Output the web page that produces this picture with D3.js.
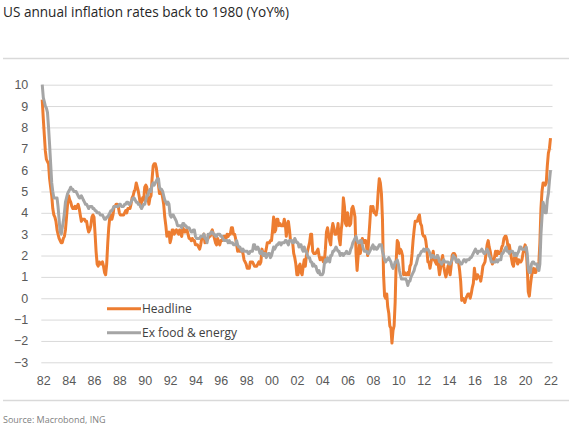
<!DOCTYPE html>
<html>
<head>
<meta charset="utf-8">
<script src="https://cdn.jsdelivr.net/npm/d3@7"></script>
<style>
  body { margin: 0; background: #fff; }
  svg { display: block; font-family: "Open Sans", sans-serif; }
  .grid line { stroke: #d9d9d9; stroke-width: 1; }
  .grid .domain { display: none; }
  .axis text { fill: #595959; font-size: 12.5px; }
</style>
</head>
<body>
<script>
var width = 569,
    height = 430;

// monthly YoY %, first point Dec 1981, last point Jan 2022
var firstMonth = new Date(1981, 11, 1);

var headline = [
  9.3,
  8.4, 7.6, 6.9, 6.5, 6.4, 6.3, 5.6, 5.2, 4.8, 4.2, 3.9, 3.8,
  3.6, 3.2, 3.0, 2.8, 2.7, 2.6, 2.6, 2.8, 2.9, 3.2, 3.8, 4.4,
  4.8, 4.6, 4.5, 4.3, 4.2, 4.2, 4.3, 4.2, 4.3, 4.4, 4.2, 3.9,
  3.6, 3.7, 3.7, 3.7, 3.6, 3.6, 3.3, 3.1, 3.2, 3.4, 3.8, 3.9,
  3.8, 3.0, 2.2, 1.6, 1.5, 1.7, 1.6, 1.6, 1.7, 1.5, 1.2, 1.1,
  1.6, 2.6, 3.3, 3.8, 3.9, 3.7, 3.9, 4.3, 4.3, 4.4, 4.4, 4.3,
  4.0, 3.9, 3.9, 3.9, 3.9, 4.0, 4.1, 4.0, 4.2, 4.2, 4.2, 4.4,
  4.7, 4.8, 5.0, 5.1, 5.4, 5.2, 5.0, 4.7, 4.3, 4.5, 4.7, 4.6,
  5.2, 5.3, 5.2, 4.7, 4.4, 4.7, 4.8, 5.6, 6.2, 6.3, 6.3, 6.1,
  5.7, 5.3, 4.9, 4.9, 5.0, 4.7, 4.4, 3.8, 3.4, 2.9, 3.0, 3.1,
  2.6, 2.8, 3.2, 3.2, 3.0, 3.1, 3.2, 3.1, 3.0, 3.2, 3.0, 2.9,
  3.3, 3.2, 3.1, 3.2, 3.2, 3.0, 2.8, 2.8, 2.7, 2.8, 2.7, 2.7,
  2.5, 2.5, 2.5, 2.4, 2.3, 2.5, 2.8, 2.9, 3.0, 2.6, 2.7, 2.7,
  2.8, 2.9, 2.9, 3.1, 3.2, 3.0, 2.8, 2.6, 2.5, 2.8, 2.6, 2.5,
  2.7, 2.7, 2.8, 2.9, 2.9, 2.8, 3.0, 2.9, 3.0, 3.0, 3.3, 3.3,
  3.0, 3.0, 2.8, 2.5, 2.2, 2.3, 2.2, 2.2, 2.2, 2.1, 1.8, 1.7,
  1.6, 1.4, 1.4, 1.4, 1.7, 1.7, 1.7, 1.6, 1.5, 1.5, 1.5, 1.6,
  1.7, 1.6, 1.7, 2.3, 2.1, 2.0, 2.1, 2.3, 2.6, 2.6, 2.6, 2.7,
  2.7, 3.2, 3.8, 3.1, 3.2, 3.7, 3.7, 3.4, 3.5, 3.4, 3.4, 3.4,
  3.7, 3.5, 2.9, 3.3, 3.6, 3.2, 2.7, 2.7, 2.6, 2.1, 1.9, 1.6,
  1.1, 1.1, 1.5, 1.6, 1.2, 1.1, 1.5, 1.8, 1.5, 2.0, 2.2, 2.4,
  2.6, 3.0, 3.0, 2.2, 2.1, 2.1, 2.1, 2.2, 2.3, 2.0, 1.8, 1.9,
  1.9, 1.7, 1.7, 2.3, 3.1, 3.3, 3.0, 2.7, 2.5, 3.2, 3.5, 3.3,
  3.0, 3.0, 3.1, 3.5, 2.8, 2.5, 3.2, 3.6, 4.7, 4.3, 3.5, 3.4,
  4.0, 3.6, 3.4, 3.5, 4.2, 4.3, 4.1, 3.8, 2.1, 1.3, 2.0, 2.5,
  2.1, 2.4, 2.8, 2.6, 2.7, 2.7, 2.4, 2.0, 2.8, 3.5, 4.3, 4.1,
  4.3, 4.0, 4.0, 3.9, 4.2, 5.0, 5.6, 5.4, 4.9, 3.7, 1.1, 0.1,
  0.0, 0.2, -0.4, -0.7, -1.3, -1.4, -2.1, -1.5, -1.3, -0.2, 1.8, 2.7,
  2.6, 2.1, 2.3, 2.2, 2.0, 1.1, 1.2, 1.1, 1.1, 1.2, 1.1, 1.5,
  1.6, 2.1, 2.7, 3.2, 3.6, 3.6, 3.6, 3.8, 3.9, 3.5, 3.4, 3.0,
  2.9, 2.9, 2.7, 2.3, 1.7, 1.7, 1.4, 1.7, 2.0, 2.2, 1.8, 1.7,
  1.6, 2.0, 1.5, 1.1, 1.4, 1.8, 2.0, 1.5, 1.2, 1.0, 1.2, 1.5,
  1.6, 1.1, 1.5, 2.0, 2.1, 2.1, 2.0, 1.7, 1.7, 1.7, 1.3, 0.8,
  -0.1, 0.0, -0.1, -0.2, 0.0, 0.1, 0.2, 0.2, 0.0, 0.2, 0.5, 0.7,
  1.4, 1.0, 0.9, 1.1, 1.0, 1.0, 0.8, 1.1, 1.5, 1.6, 1.7, 2.1,
  2.5, 2.7, 2.4, 2.2, 1.9, 1.6, 1.7, 1.9, 2.2, 2.0, 2.2, 2.1,
  2.1, 2.2, 2.4, 2.5, 2.8, 2.9, 2.9, 2.7, 2.3, 2.5, 2.2, 1.9,
  1.6, 1.5, 1.9, 2.0, 1.8, 1.6, 1.8, 1.7, 1.7, 1.8, 2.1, 2.3,
  2.5, 2.3, 1.5, 0.3, 0.1, 0.6, 1.0, 1.3, 1.4, 1.2, 1.2, 1.4,
  1.4, 1.7, 2.6, 4.2, 5.0, 5.4, 5.4, 5.3, 5.4, 6.2, 6.8, 7.0,
  7.5
];

var exFoodEnergy = [
  10.0,
  9.4, 9.2, 9.0, 8.9, 8.7, 8.0, 7.2, 6.3, 5.4, 5.0, 4.7, 4.7,
  4.7, 4.7, 4.3, 3.7, 3.1, 3.0, 3.3, 3.6, 4.0, 4.5, 4.7, 4.9,
  5.0, 5.1, 5.2, 5.1, 5.1, 5.0, 5.0, 5.0, 4.9, 4.8, 4.7, 4.7,
  4.8, 4.7, 4.6, 4.5, 4.4, 4.4, 4.3, 4.2, 4.3, 4.3, 4.3, 4.2,
  4.2, 4.1, 4.1, 4.0, 4.0, 4.0, 3.9, 3.9, 3.9, 3.8, 3.7, 3.7,
  3.8, 3.8, 3.9, 4.0, 4.1, 4.1, 4.2, 4.3, 4.3, 4.3, 4.3, 4.3,
  4.4, 4.4, 4.3, 4.3, 4.3, 4.4, 4.4, 4.5, 4.5, 4.4, 4.4, 4.5,
  4.6, 4.7, 4.7, 4.6, 4.5, 4.5, 4.4, 4.4, 4.3, 4.2, 4.3, 4.4,
  4.4, 4.6, 4.8, 4.8, 5.0, 5.1, 5.0, 5.3, 5.4, 5.3, 5.4, 5.5,
  5.6, 5.6, 5.2, 5.1, 5.1, 5.0, 4.8, 4.6, 4.5, 4.4, 4.5, 4.4,
  3.9, 3.8, 3.9, 3.9, 3.8, 3.7, 3.6, 3.4, 3.4, 3.4, 3.4, 3.3,
  3.5, 3.5, 3.4, 3.4, 3.3, 3.3, 3.3, 3.2, 3.1, 3.1, 3.2, 3.2,
  2.9, 2.8, 2.8, 2.8, 2.8, 2.9, 2.9, 2.9, 3.0, 2.8, 2.8, 2.6,
  3.0, 3.0, 3.0, 3.1, 3.1, 3.0, 3.0, 2.9, 2.9, 3.0, 3.0, 3.0,
  2.9, 2.9, 2.8, 2.7, 2.7, 2.7, 2.7, 2.6, 2.7, 2.6, 2.6, 2.6,
  2.5, 2.5, 2.5, 2.7, 2.5, 2.4, 2.4, 2.3, 2.2, 2.3, 2.2, 2.2,
  2.2, 2.2, 2.1, 2.1, 2.2, 2.2, 2.2, 2.5, 2.5, 2.3, 2.3, 2.4,
  2.3, 2.1, 2.1, 2.2, 2.0, 2.1, 2.1, 1.9, 2.0, 2.1, 2.1, 1.9,
  2.0, 2.2, 2.4, 2.3, 2.4, 2.5, 2.5, 2.6, 2.6, 2.5, 2.6, 2.6,
  2.6, 2.7, 2.7, 2.6, 2.5, 2.7, 2.7, 2.7, 2.6, 2.6, 2.8, 2.7,
  2.6, 2.6, 2.4, 2.5, 2.5, 2.3, 2.2, 2.4, 2.2, 2.2, 2.0, 1.9,
  1.9, 1.7, 1.7, 1.5, 1.6, 1.5, 1.5, 1.3, 1.2, 1.3, 1.1, 1.1,
  1.1, 1.2, 1.6, 1.8, 1.7, 1.9, 1.8, 1.7, 2.0, 2.0, 2.2, 2.2,
  2.3, 2.4, 2.3, 2.2, 2.2, 2.0, 2.1, 2.1, 2.0, 2.1, 2.1, 2.2,
  2.1, 2.1, 2.1, 2.3, 2.4, 2.6, 2.7, 2.8, 2.9, 2.7, 2.6, 2.6,
  2.7, 2.7, 2.5, 2.3, 2.2, 2.2, 2.2, 2.1, 2.1, 2.2, 2.3, 2.4,
  2.5, 2.3, 2.4, 2.3, 2.3, 2.4, 2.5, 2.5, 2.5, 2.2, 2.0, 1.8,
  1.7, 1.8, 1.8, 1.9, 1.8, 1.7, 1.5, 1.4, 1.5, 1.7, 1.7, 1.8,
  1.6, 1.3, 1.1, 0.9, 0.9, 0.9, 0.9, 0.9, 0.8, 0.6, 0.8, 0.8,
  1.0, 1.1, 1.2, 1.3, 1.5, 1.6, 1.8, 2.0, 2.0, 2.1, 2.2, 2.2,
  2.3, 2.2, 2.3, 2.3, 2.3, 2.2, 2.1, 1.9, 2.0, 2.0, 1.9, 1.9,
  1.9, 2.0, 1.9, 1.7, 1.7, 1.6, 1.7, 1.8, 1.7, 1.7, 1.7, 1.7,
  1.6, 1.6, 1.7, 1.8, 2.0, 1.9, 1.9, 1.7, 1.7, 1.8, 1.7, 1.6,
  1.6, 1.7, 1.8, 1.8, 1.7, 1.8, 1.8, 1.8, 1.9, 1.9, 2.0, 2.1,
  2.2, 2.3, 2.2, 2.1, 2.2, 2.2, 2.2, 2.3, 2.2, 2.1, 2.1, 2.2,
  2.3, 2.2, 2.0, 1.9, 1.7, 1.7, 1.7, 1.7, 1.7, 1.8, 1.7, 1.8,
  1.8, 1.8, 2.1, 2.1, 2.2, 2.3, 2.4, 2.2, 2.2, 2.1, 2.2, 2.2,
  2.2, 2.1, 2.0, 2.1, 2.0, 2.1, 2.2, 2.4, 2.4, 2.3, 2.3, 2.3,
  2.3, 2.4, 2.1, 1.4, 1.2, 1.2, 1.6, 1.7, 1.7, 1.6, 1.6, 1.6,
  1.4, 1.3, 1.6, 3.0, 3.8, 4.5, 4.3, 4.0, 4.0, 4.6, 4.9, 5.5,
  6.0
];

var seriesNames = ['Headline', 'Ex food & energy'],
    seriesColors = ['#ed7d31', '#a5a5a5'];

var yTicks = [10, 9, 8, 7, 6, 5, 4, 3, 2, 1, 0, -1, -2, -3];
var xTickYears = d3.range(1982, 2023, 2);

var svg = d3.select("body").append("svg")
    .attr("width", width)
    .attr("height", height);

var x = d3.scaleTime().domain([new Date(1982, 0, 1), new Date(2022, 0, 1)]).range([43.3, 550.5]),
    y = d3.scaleLinear().domain([-3, 10]).range([362.3, 84.7]);

var gridLeft = 41.3, gridRight = 552.5;

// title + separators
svg.append('text')
  .attr('x', 3).attr('y', 17)
  .style('font-size', '13.6px')
  .style('fill', '#262626')
  .text('US annual inflation rates back to 1980 (YoY%)');

svg.append('line')
  .attr('x1', 3).attr('x2', width)
  .attr('y1', 58.5).attr('y2', 58.5)
  .attr('stroke', '#d9d9d9').attr('stroke-width', 1.5);

svg.append('line')
  .attr('x1', 3).attr('x2', width)
  .attr('y1', 400.5).attr('y2', 400.5)
  .attr('stroke', '#d9d9d9').attr('stroke-width', 1.5);

svg.append('text')
  .attr('x', 3).attr('y', 422.5)
  .style('font-size', '9px')
  .style('fill', '#7f7f7f')
  .text('Source: Macrobond, ING');

// horizontal gridlines with the value labels
svg.append('g')
  .attr('class', 'grid axis')
  .attr('transform', 'translate(' + gridLeft + ',0)')
  .call(d3.axisLeft(y).tickValues(yTicks).tickSize(-(gridRight - gridLeft)).tickPadding(13))
  .call(function(g) { g.select('.domain').remove(); });

// year labels
svg.append('g')
  .attr('class', 'axis')
  .attr('transform', 'translate(0,' + y(-3) + ')')
  .call(d3.axisBottom(x)
    .tickValues(xTickYears.map(function(yr) { return new Date(yr, 0, 1); }))
    .tickFormat(d3.timeFormat('%y'))
    .tickSize(0).tickPadding(13.5))
  .call(function(g) { g.select('.domain').remove(); });

// the two series
var line = d3.line()
  .x(function(d, i) { return x(d3.timeMonth.offset(firstMonth, i)); })
  .y(function(d) { return y(d); });

svg.selectAll('.series')
  .data([headline, exFoodEnergy])
  .enter().append('path')
  .attr('class', 'series')
  .attr('d', line)
  .attr('fill', 'none')
  .attr('stroke', function(d, i) { return seriesColors[i]; })
  .attr('stroke-width', 3)
  .attr('stroke-linejoin', 'round');

// legend
var legend = svg.selectAll('.legend')
  .data(seriesNames)
  .enter().append('g')
  .attr('class', 'legend')
  .attr('transform', function(d, i) { return 'translate(107,' + (308.7 + i * 24) + ')'; });

legend.append('line')
  .attr('x1', 0).attr('x2', 34)
  .attr('stroke', function(d, i) { return seriesColors[i]; })
  .attr('stroke-width', 3);

legend.append('text')
  .attr('x', 35).attr('dy', '0.35em')
  .style('font-size', '12px')
  .style('fill', '#404040')
  .text(function(d) { return d; });
</script>
</body>
</html>
